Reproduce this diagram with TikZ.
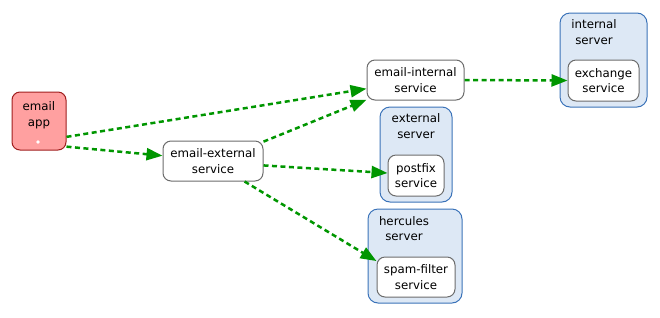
\documentclass[tikz,border=0pt]{standalone}
\usepackage{fontspec}
\setmainfont{DejaVu Sans}
\usetikzlibrary{arrows.meta,positioning}

\definecolor{flowgreen}{RGB}{0,150,0}
\definecolor{hostfill}{RGB}{221,232,245}
\definecolor{hostline}{RGB}{59,115,185}
\definecolor{appfill}{RGB}{255,160,160}
\definecolor{appline}{RGB}{160,30,30}

\tikzset{
  svc/.style={draw=gray!85!black, line width=1pt, fill=white, rounded corners=8pt, align=center, inner sep=0pt},
  host/.style={draw=hostline, line width=1pt, fill=hostfill, rounded corners=10pt, inner sep=0pt},
  flow/.style={flowgreen, line width=2.5pt, dash pattern=on 5pt off 3.5pt,
    -{Triangle[length=16pt,width=12pt]}}
}

\begin{document}
\begin{tikzpicture}[x=1pt, y=-1pt, font=\fontsize{11.8}{15.5}\selectfont]
    \useasboundingbox (0,0) rectangle (660,317);
    % servers
    \node[host, minimum width=87pt, minimum height=94pt] (intsrv) at (603.5,60) {};
    \node[align=center] (intlbl) at (594,32) {internal\\server};
    \node[host, minimum width=72pt, minimum height=95pt] (extsrv) at (416,154.5) {};
    \node[align=center] (extlbl) at (416,126) {external\\server};
    \node[host, minimum width=94pt, minimum height=94pt] (hersrv) at (415,256) {};
    \node[align=center] (herlbl) at (404,228.5) {hercules\\server};
    % email app
    \node[draw=appline, line width=1pt, fill=appfill, rounded corners=8pt, minimum width=54pt, minimum height=58pt] (app) at (39,121) {};
    \node[align=center] (applbl) at (39,115) {email\\app};
    \node[circle, fill=white, inner sep=1.3pt] (appdot) at (38,142) {};
    % services
    \node[svc, minimum width=100pt, minimum height=40pt] (extsvc) at (213,161) {email-external\\service};
    \node[svc, minimum width=97pt, minimum height=40pt] (intsvc) at (415.5,80) {email-internal\\service};
    \node[svc, minimum width=71pt, minimum height=41pt] (exchange) at (603.5,80.5) {exchange\\service};
    \node[svc, minimum width=56pt, minimum height=41pt] (postfix) at (416,175.5) {postfix\\service};
    \node[svc, minimum width=78pt, minimum height=40pt] (spam) at (416,277) {spam-filter\\service};
    % flows
    \draw[flow] (app.-30) -- (intsvc.190);
    \draw[flow] (app.-43) -- (extsvc.174);
    \draw[flow] (extsvc.21) -- (intsvc.202);
    \draw[flow] (extsvc.-5) -- (postfix.175);
    \draw[flow] (extsvc.-33) -- (spam.158);
    \draw[flow] (intsvc.east) -- (exchange.west);
\end{tikzpicture}
\end{document}
